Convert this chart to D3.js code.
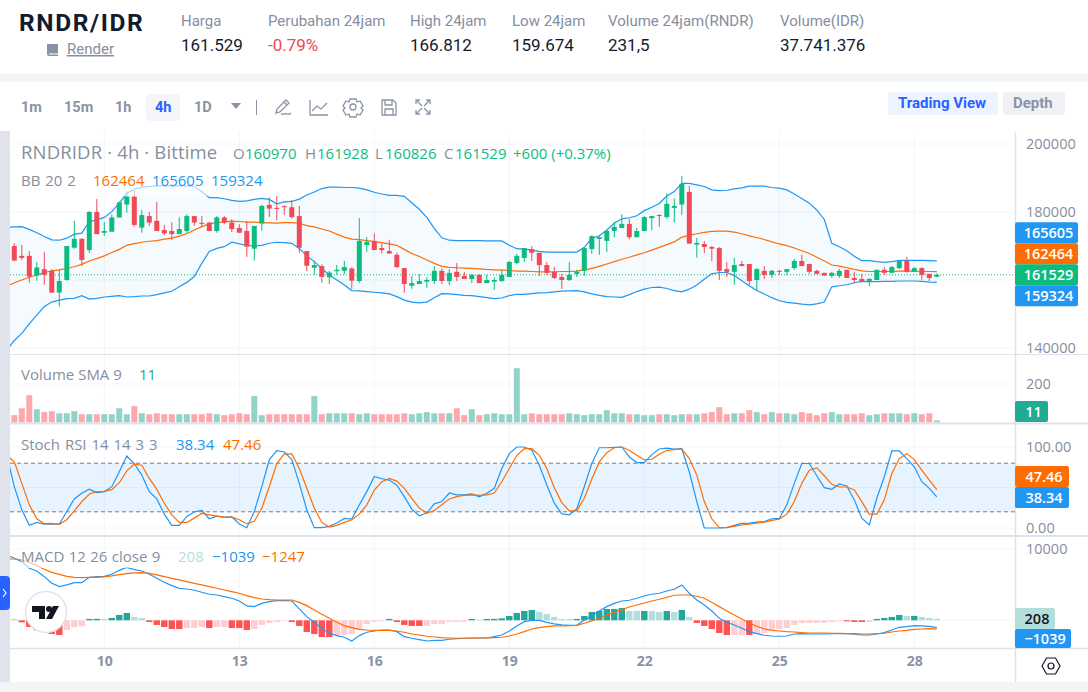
<!DOCTYPE html>
<html>
<head>
<meta charset="utf-8">
<script src="https://cdn.jsdelivr.net/npm/d3@7"></script>
<style>
  html, body { margin: 0; padding: 0; background: #f3f4f6; overflow: hidden; }
  svg { display: block; }
  .hd { font-family: Roboto, sans-serif; }
  .tv { font-family: "Open Sans", sans-serif; }
</style>
</head>
<body>
<svg id="chart" width="1088" height="692"></svg>
<script>
// prices in thousands of IDR, one entry per 4h bar
var opens = [170.0,167.1,167.1,161.3,163.2,162.7,156.3,160.0,169.5,172.1,168.8,180.0,173.9,174.2,178.4,182.2,184.5,175.4,178.8,177.4,174.7,174.4,173.5,174.4,178.8,176.8,176.9,174.4,178.4,176.9,175.3,174.4,169.2,176.6,182.1,181.2,181.7,181.4,178.8,168.5,163.6,164.1,160.8,162.6,162.7,163.4,159.7,170.3,171.5,169.4,168.5,167.4,163.5,158.3,158.8,159.5,159.7,162.7,159.7,162.4,161.2,160.3,161.5,159.1,159.5,159.7,160.9,165.0,166.5,169.1,168.0,164.4,162.4,160.9,160.0,161.8,162.7,169.1,172.1,171.5,174.4,175.3,176.5,172.6,174.4,178.2,179.1,178.5,181.2,182.2,185.9,170.4,170.6,169.7,169.4,163.2,162.4,164.7,164.7,160.0,162.7,161.5,162.7,162.4,163.5,165.6,164.7,162.7,162.1,161.2,161.2,163.0,160.6,160.3,159.4,160.0,163.0,162.1,163.5,165.6,162.4,163.5,161.8,160.97];
var highs = [170.8,170.3,168.5,165.2,168.2,163.2,163.0,170.0,177.4,172.3,180.3,183.8,177.0,179.3,183.1,186.0,186.2,180.6,180.0,182.9,176.2,177.0,178.4,179.4,178.8,178.8,177.0,178.8,178.8,177.9,176.4,177.4,175.9,182.1,184.3,184.7,182.0,183.5,181.8,168.5,165.7,164.6,162.7,164.4,165.6,163.7,178.2,172.6,173.7,170.6,171.8,168.1,163.5,161.2,161.8,160.8,164.1,163.4,163.2,165.0,162.4,161.8,161.7,161.5,160.8,163.0,165.6,167.7,169.4,170.0,168.0,165.3,163.8,161.8,165.3,163.0,169.4,173.2,172.9,174.7,177.1,179.4,178.0,175.3,178.8,178.8,179.4,185.5,184.0,190.6,187.7,172.4,171.5,170.0,169.7,165.3,166.5,165.6,164.7,163.5,164.1,163.0,163.0,163.2,166.2,167.4,164.7,163.0,162.1,162.4,163.2,163.0,162.4,161.8,160.6,163.0,163.8,164.1,165.9,166.8,163.8,163.8,161.8,161.928];
var lows = [165.7,165.9,159.2,159.8,158.6,156.3,152.2,159.8,169.2,164.2,168.0,173.5,173.0,174.2,178.4,179.8,175.7,173.9,175.9,174.4,173.2,171.8,173.5,173.7,175.9,175.9,174.4,173.9,176.4,174.1,173.9,166.8,165.7,174.5,178.6,177.5,179.1,178.0,168.0,162.5,161.5,159.2,158.8,161.5,161.7,157.4,159.2,168.3,168.8,167.8,167.7,163.5,156.2,157.4,158.8,157.7,158.8,158.8,158.5,159.7,160.3,159.1,159.1,159.1,157.1,159.4,160.9,164.7,165.3,165.6,161.2,161.5,160.3,157.4,159.7,160.9,161.2,167.7,167.4,168.2,172.6,175.3,172.0,172.6,174.4,174.7,175.6,178.0,176.9,179.1,170.7,166.6,167.9,165.6,160.0,160.9,158.6,164.1,158.6,156.9,160.3,160.6,161.5,161.5,163.0,164.1,161.8,161.8,161.3,160.6,160.6,160.6,159.1,159.4,158.2,160.0,161.5,162.1,163.2,162.1,162.4,160.0,159.7,160.826];
var closes = [165.7,166.5,161.0,163.7,161.5,156.3,159.7,170.0,172.1,165.9,180.0,173.5,174.4,178.4,182.8,184.5,176.2,179.1,176.9,174.4,173.7,173.5,175.0,178.8,176.9,176.5,174.4,178.4,176.9,175.0,173.9,169.8,175.9,181.8,181.0,181.0,181.4,178.5,169.5,164.2,164.4,160.9,162.2,163.0,163.8,159.8,171.5,171.2,168.8,168.8,167.8,163.8,158.8,159.1,159.7,160.0,162.7,159.7,162.1,160.9,160.3,161.5,159.1,160.0,160.0,161.5,165.3,167.1,169.4,168.0,164.4,162.1,160.6,160.0,161.5,162.4,169.4,172.9,172.6,174.4,175.6,176.5,172.6,174.4,178.5,178.8,178.8,182.4,181.8,188.3,170.7,170.9,169.7,169.2,162.7,162.4,164.4,164.1,159.7,163.2,161.5,162.7,162.4,163.2,165.6,164.1,162.4,161.8,161.3,162.1,162.7,160.6,160.0,159.5,160.3,163.0,162.1,163.8,165.6,162.4,163.5,161.5,160.6,161.529];

// indicator lists start one bar before the first candle
var bbUpper = [175.5,175.6,175.7,174.9,173.9,172.8,171.8,171.7,172.3,173.5,173.8,177.2,177.7,178.4,180.1,182.6,185.5,186.7,187.3,187.5,187.7,187.7,187.7,187.7,187.7,187.5,186.0,184.2,184.2,183.9,183.4,183.1,183.3,183.7,184.0,183.7,182.4,183.0,183.1,183.8,185.0,185.9,186.9,187.3,187.3,187.2,187.2,187.0,186.5,185.8,185.3,184.9,184.9,184.6,182.7,180.8,178.4,175.2,172.4,171.7,171.6,171.6,171.6,171.6,171.5,171.5,171.5,170.2,169.2,169.1,168.8,168.4,168.2,168.2,168.2,168.2,168.2,169.6,172.3,173.0,174.7,176.7,178.0,178.3,178.9,180.4,181.4,182.5,184.7,186.0,188.4,188.4,188.0,187.5,186.5,186.3,186.4,186.8,187.1,187.6,187.6,187.6,187.2,187.0,186.5,185.3,184.0,182.6,180.6,177.8,170.8,169.8,168.6,167.0,165.7,165.7,165.4,165.2,165.4,165.8,165.8,165.8,165.8,165.7,165.605];
var bbMiddle = [158.1,159.2,160.0,160.8,161.5,162.2,162.7,163.0,163.4,163.9,164.6,165.6,166.3,167.1,168.1,169.0,170.2,170.7,171.1,171.4,171.6,172.0,172.3,172.9,173.6,174.7,175.7,176.5,176.9,177.1,177.3,177.2,177.0,177.0,176.9,176.8,176.7,176.9,176.9,176.7,176.0,175.6,175.0,174.4,173.5,172.6,172.0,171.9,171.6,171.3,171.0,170.6,170.2,169.0,167.8,166.9,165.9,164.9,164.0,163.7,163.6,163.5,163.4,163.3,163.1,163.0,162.9,162.8,162.6,162.6,162.5,162.4,162.4,162.4,162.5,162.5,162.6,163.0,163.4,164.0,164.7,165.4,166.1,166.7,167.4,168.0,168.8,169.6,170.4,171.2,172.6,173.1,173.6,174.0,174.3,174.4,174.4,174.1,173.6,173.0,172.5,171.9,171.2,170.6,170.1,169.4,168.6,167.8,166.7,165.6,164.4,164.1,163.6,163.1,162.7,162.5,162.5,162.5,162.5,162.6,162.7,162.6,162.5,162.5,162.464];
var bbLower = [139.4,142.2,144.3,147.1,149.7,152.2,153.5,154.1,154.5,154.6,155.4,154.4,154.6,155.0,155.2,155.4,155.0,155.1,155.3,155.3,155.7,156.2,156.7,158.0,159.3,161.0,164.9,168.4,169.3,169.8,171.1,170.6,170.2,170.0,170.2,170.8,171.1,171.0,170.8,169.3,167.1,165.4,163.4,161.5,160.0,158.5,156.9,156.8,156.6,156.4,156.2,155.9,155.1,154.1,153.5,153.3,153.5,154.8,156.0,155.9,155.7,155.5,155.4,155.1,154.8,154.5,154.7,155.4,155.8,155.8,156.0,156.2,156.3,156.5,156.7,156.8,156.9,156.5,155.9,155.5,155.1,155.0,154.9,155.7,156.6,157.3,157.8,157.9,157.5,156.9,156.5,157.3,158.5,160.2,161.8,162.2,162.2,161.3,159.8,158.3,156.9,155.9,154.8,153.9,153.4,153.2,152.9,152.7,153.0,153.5,158.0,158.3,158.6,159.2,159.6,159.5,159.5,159.6,159.6,159.7,159.7,159.7,159.6,159.4,159.324];

var volumes = [38,74,142,69,54,59,48,48,59,43,43,43,43,43,74,43,85,48,43,48,43,43,43,43,43,43,48,43,38,43,48,43,137,38,43,43,43,43,43,43,137,43,48,48,48,48,43,48,43,43,43,43,48,43,48,54,48,48,48,74,38,69,38,43,48,43,43,282,43,48,43,43,43,43,48,43,38,43,43,64,48,48,43,43,38,38,43,43,38,43,43,43,48,54,80,43,48,48,64,54,43,54,48,48,43,54,48,38,48,54,43,43,43,48,38,43,48,48,48,43,48,43,48,11];

var stochK = [89.8,51.0,22.4,3.3,6.9,4.9,4.9,4.9,20.4,35.9,42.8,47.8,43.7,44.9,51.0,69.4,88.9,79.6,65.3,44.9,35.9,17.1,3.3,3.3,14.3,20.0,21.6,11.4,14.7,13.5,13.9,4.9,0.4,20.4,51.0,84.5,95.5,93.8,84.5,55.1,22.4,0.4,0.4,2.0,6.1,11.8,11.0,28.6,44.9,63.6,60.8,59.2,53.0,38.8,23.3,15.1,18.4,29.8,32.6,43.2,40.8,40.8,42.0,38.4,42.8,49.0,73.4,91.8,100,100,95.9,77.5,53.0,30.6,17.5,16.3,23.7,51.0,79.6,99.1,99.1,99.6,100,87.7,80.8,80.8,90.6,97.5,98.7,97.5,97.9,69.4,32.6,0,0,0,0.4,3.3,5.7,6.1,7.3,7.8,11.4,11.8,28.6,55.1,79.6,79.6,64.5,49.8,47.8,54.3,51.8,34.7,12.2,3.7,36.7,63.2,95.1,95.1,85.7,75.5,57.1,49.0,38.34];
var stochD = [89.8,81.6,55.1,28.6,11.4,5.3,5.7,4.5,10.2,21.2,32.6,42.0,44.9,45.3,47.3,55.9,70.6,78.7,77.5,61.2,47.7,30.6,16.3,6.9,6.9,12.2,18.0,16.3,14.7,13.1,13.5,10.2,5.3,8.2,24.5,51.0,79.6,91.4,91.4,73.4,49.0,24.5,6.9,1.2,3.3,6.9,10.2,17.1,28.6,46.9,57.1,61.2,57.9,49.0,36.7,24.5,18.4,21.6,28.6,35.9,38.8,40.4,40.8,40.4,40.8,43.2,57.1,73.4,89.8,97.9,97.9,89.8,73.4,49.8,31.4,21.2,21.2,36.7,60.4,81.6,93.0,99.1,100,95.9,89.8,84.0,84.9,91.0,95.9,96.7,97.5,85.7,65.3,32.6,11.4,0.4,0.8,2.0,3.7,4.9,6.1,7.3,9.4,11.0,17.1,32.6,55.1,71.4,74.3,64.5,53.9,50.6,50.6,46.9,32.6,17.1,17.1,34.7,67.3,85.7,91.8,84.5,71.4,59.2,47.46];

var macdLine = [9160,8700,8230,7290,6920,6120,5190,4720,4960,5280,5280,6030,6120,6170,6450,7010,7430,7110,6920,6450,5890,5330,4860,4490,4390,4210,3930,3650,3550,3320,3090,2710,2010,1920,2380,2620,2760,2760,2710,1590,510,-280,-1120,-1820,-2150,-2380,-2900,-2150,-1680,-1500,-1360,-1360,-1590,-2290,-2520,-2710,-2900,-2810,-2810,-2660,-2570,-2520,-2480,-2480,-2480,-2290,-2060,-1500,-790,-190,0,0,-280,-510,-650,-700,-700,50,650,1310,1920,2380,2710,2810,3090,3410,3650,3790,4110,4350,4960,3790,2850,2150,1310,280,-280,-650,-1120,-1590,-1870,-2100,-2200,-2240,-2200,-1920,-1870,-1920,-1920,-1920,-1870,-1870,-1870,-1960,-2060,-2060,-1920,-1730,-1360,-980,-890,-750,-790,-840,-1039];
var macdSignal = [8600,8600,8460,8130,7670,7150,6730,6450,6170,6030,5980,6030,6030,6080,6220,6400,6550,6640,6690,6590,6360,6120,5890,5660,5420,5190,4960,4720,4490,4250,4020,3790,3460,3180,2990,2900,2850,2850,2850,2520,2060,1450,840,280,-280,-750,-1030,-1260,-1360,-1400,-1400,-1400,-1500,-1680,-1920,-2060,-2240,-2340,-2430,-2480,-2520,-2520,-2520,-2480,-2480,-2430,-2380,-2200,-1920,-1590,-1220,-1030,-890,-790,-790,-750,-700,-420,-90,280,750,1120,1500,1870,2150,2430,2710,2950,3230,3510,3550,3550,3370,3090,2520,1920,1310,750,190,-370,-840,-1220,-1400,-1500,-1590,-1640,-1730,-1780,-1780,-1780,-1820,-1820,-1870,-1870,-1920,-1920,-1870,-1820,-1640,-1500,-1400,-1260,-1220,-1170,-1247];
// histogram has no extra leading bar
var macdHist = [190,-280,-940,-1400,-1640,-1920,-2060,-1360,-940,-840,190,200,190,330,750,1030,470,330,-230,-650,-940,-1220,-1230,-1080,-1070,-940,-1080,-940,-930,-1080,-1090,-1360,-1220,-650,-370,-230,-90,-230,-790,-1640,-1920,-2340,-2350,-2060,-2050,-1920,-1220,-510,-230,-140,190,-230,-650,-790,-800,-790,-510,-500,-230,-220,-190,190,90,190,200,280,610,1030,1310,1450,1170,890,470,190,180,190,610,1170,1310,1590,1600,1730,1310,1300,1310,1300,1170,1310,1170,1450,470,-370,-790,-1220,-1780,-2060,-2050,-2040,-2060,-1920,-1780,-1500,-1220,-1080,-650,-370,-360,-350,-340,-230,-140,-150,-230,-240,-230,190,330,470,750,610,620,470,330,208];

var tickBars = [12,30,48,66,84,102,120];
var tickLabels = ['10','13','16','19','22','25','28'];
var priceTicks = [140,160,180,200];
var priceLabels = [140,180,200]; // 160000 sits behind the value badges

var statLabels = ['Harga','Perubahan 24jam','High 24jam','Low 24jam','Volume 24jam(RNDR)','Volume(IDR)'];
var statValues = ['161.529','-0.79%','166.812','159.674','231,5','37.741.376'];
var statX = [181,268,410,512,608,780];
var intervals = ['1m','15m','1h','4h','1D'];
var intervalX = [21,64,115,155,194];

var green = '#0ebb7f', red = '#f04a58', blue = '#2196f3', orange = '#ff6d00';
var muted = '#868e9f', gridColor = '#f3f5f7', lineColor = '#dfe2ea';

var svg = d3.select('#chart');

// page blocks
svg.append('rect').attr('width', 1088).attr('height', 74).attr('fill', '#fff');
svg.append('rect').attr('y', 82).attr('width', 1088).attr('height', 600).attr('fill', '#fff');
svg.append('rect').attr('y', 131).attr('width', 10).attr('height', 551).attr('fill', '#e0e3eb');

function label(parent, s, x, y, size, color, weight, cls) {
  return parent.append('text')
    .attr('class', cls || 'tv')
    .attr('x', x)
    .attr('y', y)
    .attr('font-size', size)
    .attr('font-weight', weight || 400)
    .attr('fill', color)
    .text(s);
}

// header
label(svg, 'RNDR/IDR', 19, 31, 24.5, '#141b2b', 700, 'hd').attr('letter-spacing', 1.6);
label(svg, 'Render', 67, 54, 15, muted, 400, 'hd').attr('text-decoration', 'underline');
svg.append('path').attr('d', 'M47 44h11v12h-9a2 2 0 0 1-2-2z').attr('fill', '#8a93a6');
svg.append('path').attr('d', 'M49 54h9').attr('stroke', '#fff').attr('stroke-width', 1);
statLabels.forEach(function(s, i) {
  label(svg, s, statX[i], 26, 15, muted, 400, 'hd');
  label(svg, statValues[i], statX[i], 51, 17, i == 1 ? '#f0465a' : '#141b2b', 400, 'hd');
});

// toolbar
svg.append('rect').attr('x', 146).attr('y', 94).attr('width', 34).attr('height', 27).attr('rx', 4).attr('fill', '#f3f5f9');
intervals.forEach(function(s, i) {
  label(svg, s, intervalX[i], 112, 14.5, s == '4h' ? '#2962ff' : '#8a93a6', 700, 'hd');
});
svg.append('path').attr('d', 'M231 103h10l-5 6z').attr('fill', '#8a93a6');
svg.append('path').attr('d', 'M256.5 100v15').attr('stroke', '#8a93a6');
var icons = svg.append('g').attr('fill', 'none').attr('stroke', '#8a93a6').attr('stroke-width', 1.3);
icons.append('path').attr('d', 'M276 113l1-4 9-9 3 3-9 9zM284 102l3 3M281 114c3 1 4-1 6 0s3 0 4-1');
icons.append('path').attr('d', 'M310 100v15h18M312 111l5-5 4 3 6-6');
icons.append('circle').attr('cx', 353).attr('cy', 107).attr('r', 3);
icons.append('path').attr('d', 'M350 99h6l1 3 3-1 3 5-2 2 2 2-3 5-3-1-1 3h-6l-1-3-3 1-3-5 2-2-2-2 3-5 3 1z');
icons.append('path').attr('d', 'M382 100h11l3 3v12h-14zM385 100v5h7v-5M385 115v-6h8v6');
icons.append('path').attr('d', 'M416 104v-4h4M426 100h4v4M416 110v4h4M430 110v4h-4M417 101l5 5M429 101l-5 5M417 113l5-5M429 113l-5-5');
svg.append('rect').attr('x', 888).attr('y', 92).attr('width', 110).attr('height', 23).attr('rx', 3).attr('fill', '#eef4ff');
label(svg, 'Trading View', 898, 108, 15, '#2962ff', 700, 'hd');
svg.append('rect').attr('x', 1003).attr('y', 92).attr('width', 62).attr('height', 23).attr('rx', 3).attr('fill', '#f0f1f4');
label(svg, 'Depth', 1013, 108, 15, '#8a93a6', 700, 'hd');

// scales
var x = d3.scaleLinear().domain([0, 123]).range([14.3, 936.8]);
var yPrice = d3.scaleLinear().domain([140, 200]).range([348, 144]);
var yVol = d3.scaleLinear().domain([0, 200]).range([422.5, 384]);
var yStoch = d3.scaleLinear().domain([0, 100]).range([528, 447]);
var yMacd = d3.scaleLinear().domain([0, 10000]).range([620.3, 549]);
var left = 10, right = 1015;

var defs = svg.append('defs');
function clip(id, y0, y1) {
  defs.append('clipPath').attr('id', id).append('rect')
    .attr('x', left).attr('y', y0).attr('width', right - left).attr('height', y1 - y0);
  return svg.append('g').attr('clip-path', 'url(#' + id + ')');
}

// grid lines
var grid = svg.append('g').attr('stroke', gridColor).attr('fill', 'none');
tickBars.forEach(function(b) {
  grid.append('line').attr('x1', x(b)).attr('x2', x(b)).attr('y1', 132).attr('y2', 648);
});
function hGrid(scale, vals) {
  vals.forEach(function(v) {
    grid.append('line').attr('x1', left).attr('x2', right).attr('y1', scale(v)).attr('y2', scale(v));
  });
}
hGrid(yPrice, priceTicks);
hGrid(yVol, [200]);
hGrid(yStoch, [0, 50, 100]);
hGrid(yMacd, [0, 10000]);

// indicator arrays carry a leading bar, hence the i - 1
function lineFor(scale) {
  return d3.line().x(function(d, i) { return x(i - 1); }).y(function(d) { return scale(d); });
}

// main pane
var main = clip('clipMain', 132, 354);
var band = d3.area()
  .x(function(d, i) { return x(i - 1); })
  .y0(function(d, i) { return yPrice(bbLower[i]); })
  .y1(function(d) { return yPrice(d); });
main.append('path').attr('d', band(bbUpper)).attr('fill', blue).attr('fill-opacity', 0.05);
[[bbUpper, blue], [bbLower, blue], [bbMiddle, orange]].forEach(function(s) {
  main.append('path').attr('d', lineFor(yPrice)(s[0])).attr('fill', 'none').attr('stroke', s[1]).attr('stroke-width', 1.2);
});
main.append('line').attr('x1', left).attr('x2', right)
  .attr('y1', yPrice(closes[123])).attr('y2', yPrice(closes[123]))
  .attr('stroke', green).attr('stroke-dasharray', '1 2');

opens.forEach(function(o, i) {
  var c = closes[i];
  var col = c >= o ? green : red;
  var top = yPrice(Math.max(o, c));
  var bot = yPrice(Math.min(o, c));
  main.append('line').attr('x1', x(i)).attr('x2', x(i))
    .attr('y1', yPrice(highs[i])).attr('y2', yPrice(lows[i]))
    .attr('stroke', col).attr('stroke-width', 1);
  main.append('rect').attr('x', x(i) - 2.5).attr('width', 5)
    .attr('y', top).attr('height', Math.max(1, bot - top))
    .attr('fill', col);
});

// volume pane
var volPane = clip('clipVol', 355, 423);
volumes.forEach(function(v, i) {
  volPane.append('rect').attr('x', x(i) - 3).attr('width', 6)
    .attr('y', yVol(v)).attr('height', yVol(0) - yVol(v))
    .attr('fill', closes[i] >= opens[i] ? '#92d3c8' : '#fda8ae');
});

// stoch rsi pane
var stochPane = clip('clipStoch', 425, 535);
stochPane.append('rect').attr('x', left).attr('width', right - left)
  .attr('y', yStoch(80)).attr('height', yStoch(20) - yStoch(80))
  .attr('fill', blue).attr('fill-opacity', 0.11);
[80, 20].forEach(function(v) {
  stochPane.append('line').attr('x1', left).attr('x2', right).attr('y1', yStoch(v)).attr('y2', yStoch(v))
    .attr('stroke', '#787b86').attr('stroke-dasharray', '4 3');
});
[[stochK, blue], [stochD, orange]].forEach(function(s) {
  stochPane.append('path').attr('d', lineFor(yStoch)(s[0])).attr('fill', 'none').attr('stroke', s[1]).attr('stroke-width', 1.2);
});

// macd pane
var macdPane = clip('clipMacd', 537, 648);
macdHist.forEach(function(h, i) {
  var prev = i > 0 ? macdHist[i - 1] : Infinity;
  var col;
  if (h >= 0) col = h >= prev ? '#26a69a' : '#b2dfdb';
  else col = h < prev ? '#ff5252' : '#ffcdd2';
  macdPane.append('rect').attr('x', x(i) - 3.2).attr('width', 6.4)
    .attr('y', yMacd(Math.max(h, 0))).attr('height', Math.abs(yMacd(h) - yMacd(0)))
    .attr('fill', col);
});
[[macdLine, blue], [macdSignal, orange]].forEach(function(s) {
  macdPane.append('path').attr('d', lineFor(yMacd)(s[0])).attr('fill', 'none').attr('stroke', s[1]).attr('stroke-width', 1.2);
});

// separators
var seps = svg.append('g').attr('stroke', lineColor);
seps.append('line').attr('x1', left).attr('x2', 1088).attr('y1', 354.5).attr('y2', 354.5);
seps.append('line').attr('x1', left).attr('x2', 1088).attr('y1', 423.5).attr('y2', 423.5).attr('stroke-width', 2);
seps.append('line').attr('x1', left).attr('x2', 1088).attr('y1', 536).attr('y2', 536).attr('stroke-width', 2);
seps.append('line').attr('x1', left).attr('x2', 1088).attr('y1', 648.5).attr('y2', 648.5).attr('stroke-width', 1.5);
seps.append('line').attr('x1', 1015.5).attr('x2', 1015.5).attr('y1', 132).attr('y2', 682).attr('stroke-width', 1.5);

// axes
function styleAxis(g, color, size, weight) {
  g.select('.domain').remove();
  g.selectAll('.tick line').remove();
  g.selectAll('text').attr('class', 'tv').attr('font-size', size).attr('font-weight', weight || 400).attr('fill', color);
}
var axisColor = '#878e9c';
svg.append('g').attr('transform', 'translate(1026,0)')
  .call(d3.axisRight(yPrice).tickValues(priceLabels).tickFormat(function(d) { return d * 1000; }).tickSize(0).tickPadding(0))
  .call(styleAxis, axisColor, 14.5);
svg.append('g').attr('transform', 'translate(1026,0)')
  .call(d3.axisRight(yVol).tickValues([200]).tickSize(0).tickPadding(0))
  .call(styleAxis, axisColor, 14.5);
svg.append('g').attr('transform', 'translate(1026,0)')
  .call(d3.axisRight(yStoch).tickValues([0, 100]).tickFormat(d3.format('.2f')).tickSize(0).tickPadding(0))
  .call(styleAxis, axisColor, 14.5);
svg.append('g').attr('transform', 'translate(1026,0)')
  .call(d3.axisRight(yMacd).tickValues([10000]).tickFormat(d3.format('d')).tickSize(0).tickPadding(0))
  .call(styleAxis, axisColor, 14.5);
svg.append('g').attr('transform', 'translate(0,656)')
  .call(d3.axisBottom(x).tickValues(tickBars).tickFormat(function(d, i) { return tickLabels[i]; }).tickSize(0).tickPadding(0))
  .call(styleAxis, '#8a93a6', 14, 700);

// value badges
function badge(s, y0, h, w, fill, color) {
  svg.append('rect').attr('x', 1015).attr('y', y0).attr('width', w).attr('height', h).attr('rx', 2).attr('fill', fill);
  label(svg, s, 1015 + w / 2 + 2, y0 + h / 2 + 5, 14.5, color || '#fff', 600).attr('text-anchor', 'middle');
}
var lastY = yPrice(closes[123]);
[[bbUpper[124], blue, -2], [bbMiddle[124], orange, -1], [closes[123], green, 0], [bbLower[124], blue, 1]].forEach(function(b) {
  badge(Math.round(b[0] * 1000), lastY - 10.5 + b[2] * 21, 21, 63, b[1]);
});
badge(volumes[123], 401, 21, 33, '#22ab94');
badge(stochD[124].toFixed(2), 466, 21, 54, orange);
badge(stochK[124].toFixed(2), 487, 21, 54, blue);
badge(macdHist[123], 608, 21, 40, '#b2dfdb', '#131722');
badge('\u2212' + Math.abs(macdLine[124]), 629, 19, 56, blue);

// legends, with the same faded backing the chart puts behind them
svg.append('rect').attr('x', 21).attr('y', 175).attr('width', 247).attr('height', 21).attr('fill', '#fff').attr('fill-opacity', 0.6);
svg.append('rect').attr('x', 21).attr('y', 549).attr('width', 285).attr('height', 19).attr('fill', '#fff').attr('fill-opacity', 0.6);
label(svg, 'RNDRIDR \u00b7 4h \u00b7 Bittime', 21, 159, 18.5, muted).attr('letter-spacing', 0.15);
var ohlc = [['O', opens[123], 233, 12], ['H', highs[123], 305, 12], ['L', lows[123], 375, 10], ['C', closes[123], 444, 11]];
ohlc.forEach(function(d) {
  label(svg, d[0], d[2], 159, 15, muted);
  label(svg, Math.round(d[1] * 1000), d[2] + d[3], 159, 15, green);
});
label(svg, '+600 (+0.37%)', 513, 159, 15, green);
function rowTitle(s, y) {
  return label(svg, s, 21, y, 15, muted).attr('word-spacing', 1);
}
rowTitle('BB 20 2', 186);
label(svg, Math.round(bbMiddle[124] * 1000), 93, 186, 15, orange);
label(svg, Math.round(bbUpper[124] * 1000), 152, 186, 15, blue);
label(svg, Math.round(bbLower[124] * 1000), 211, 186, 15, blue);
rowTitle('Volume SMA 9', 380).attr('word-spacing', 0);
label(svg, volumes[123], 139, 380, 15, '#26a69a');
rowTitle('Stoch RSI 14 14 3 3', 450);
label(svg, stochK[124].toFixed(2), 176, 450, 15, blue);
label(svg, stochD[124].toFixed(2), 223, 450, 15, orange);
rowTitle('MACD 12 26 close 9', 562).attr('word-spacing', 0.5);
label(svg, macdHist[123], 178, 562, 15, '#b2dfdb');
label(svg, '\u2212' + Math.abs(macdLine[124]), 212, 562, 15, blue);
label(svg, '\u2212' + Math.abs(macdSignal[124]), 262, 562, 15, orange);

// side tab and logo
svg.append('rect').attr('x', -6).attr('y', 576).attr('width', 16).attr('height', 34).attr('rx', 4).attr('fill', '#2962ff');
svg.append('path').attr('d', 'M3 589l3 4-3 4').attr('fill', 'none').attr('stroke', '#fff').attr('stroke-width', 1.2);
svg.append('circle').attr('cx', 46).attr('cy', 612).attr('r', 20.5).attr('fill', '#fff').attr('stroke', '#e0e3eb').attr('stroke-width', 1.5);
svg.append('path').attr('d', 'M32 606h13v13h-6v-7h-7zM59 606l-7 13h-6l7-13z').attr('fill', '#131722');
svg.append('circle').attr('cx', 49).attr('cy', 609).attr('r', 3).attr('fill', '#131722');

// scale settings icon
svg.append('path').attr('d', 'M1042 666l4.5-8h9l4.5 8-4.5 8h-9z').attr('fill', 'none').attr('stroke', '#131722').attr('stroke-width', 1.2);
svg.append('circle').attr('cx', 1051).attr('cy', 666).attr('r', 3).attr('fill', 'none').attr('stroke', '#131722').attr('stroke-width', 1.2);
</script>
</body>
</html>
